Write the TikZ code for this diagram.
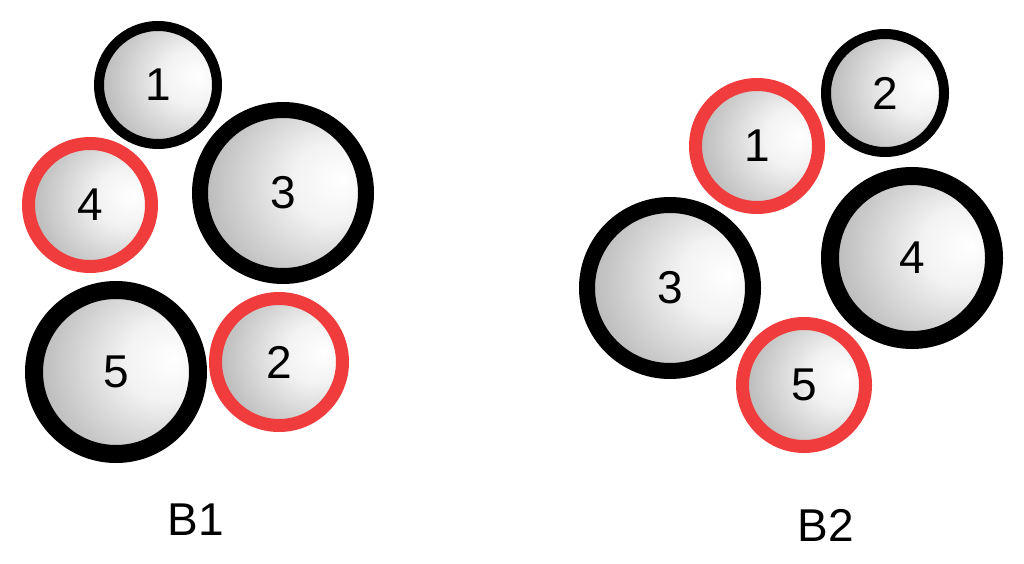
\documentclass[tikz,border=0pt]{standalone}
\usepackage{fontspec}
\setmainfont{Liberation Sans}
\pgfdeclareradialshading{myball}{\pgfpoint{18bp}{4bp}}{color(0bp)=(white); color(12bp)=(white!95!black); color(36bp)=(black!30); color(56bp)=(black!55); color(66bp)=(black)}
\definecolor{ringred}{RGB}{240,60,60}
\tikzset{
  numlbl/.style={font=\fontsize{46}{46}\selectfont},
  grplbl/.style={font=\fontsize{46}{46}\selectfont}
}
\newcommand{\myball}[6]{%
  \shade[shading=myball] (#2,#3) circle[radius=#4-#5/2];
  \draw[line width=#5 pt,#6] (#2,#3) circle[radius=#4-#5/2];
  \node[numlbl] (#1) at (#2,#3) {\ballnum};
}
\begin{document}
\begin{tikzpicture}[x=1pt,y=-1pt]
\useasboundingbox (0,0) rectangle (1024,564);
\def\ballnum{1}\myball{a1}{158}{85}{64}{10}{black}
\def\ballnum{4}\myball{a4}{90}{205}{68}{13}{ringred}
\def\ballnum{3}\myball{a3}{283}{193}{91}{16}{black}
\def\ballnum{5}\myball{a5}{116}{372}{91}{18}{black}
\def\ballnum{2}\myball{a2}{279}{362}{70}{13}{ringred}
\def\ballnum{1}\myball{b1}{757}{146}{68}{13}{ringred}
\def\ballnum{2}\myball{b2}{885}{93}{64}{10}{black}
\def\ballnum{3}\myball{b3}{670}{288}{91}{16}{black}
\def\ballnum{4}\myball{b4}{912}{258}{91}{18}{black}
\def\ballnum{5}\myball{b5}{804}{385}{68}{13}{ringred}
\node[grplbl] (g1) at (196,520) {B1};
\node[grplbl] (g2) at (826,525) {B2};
\end{tikzpicture}
\end{document}
